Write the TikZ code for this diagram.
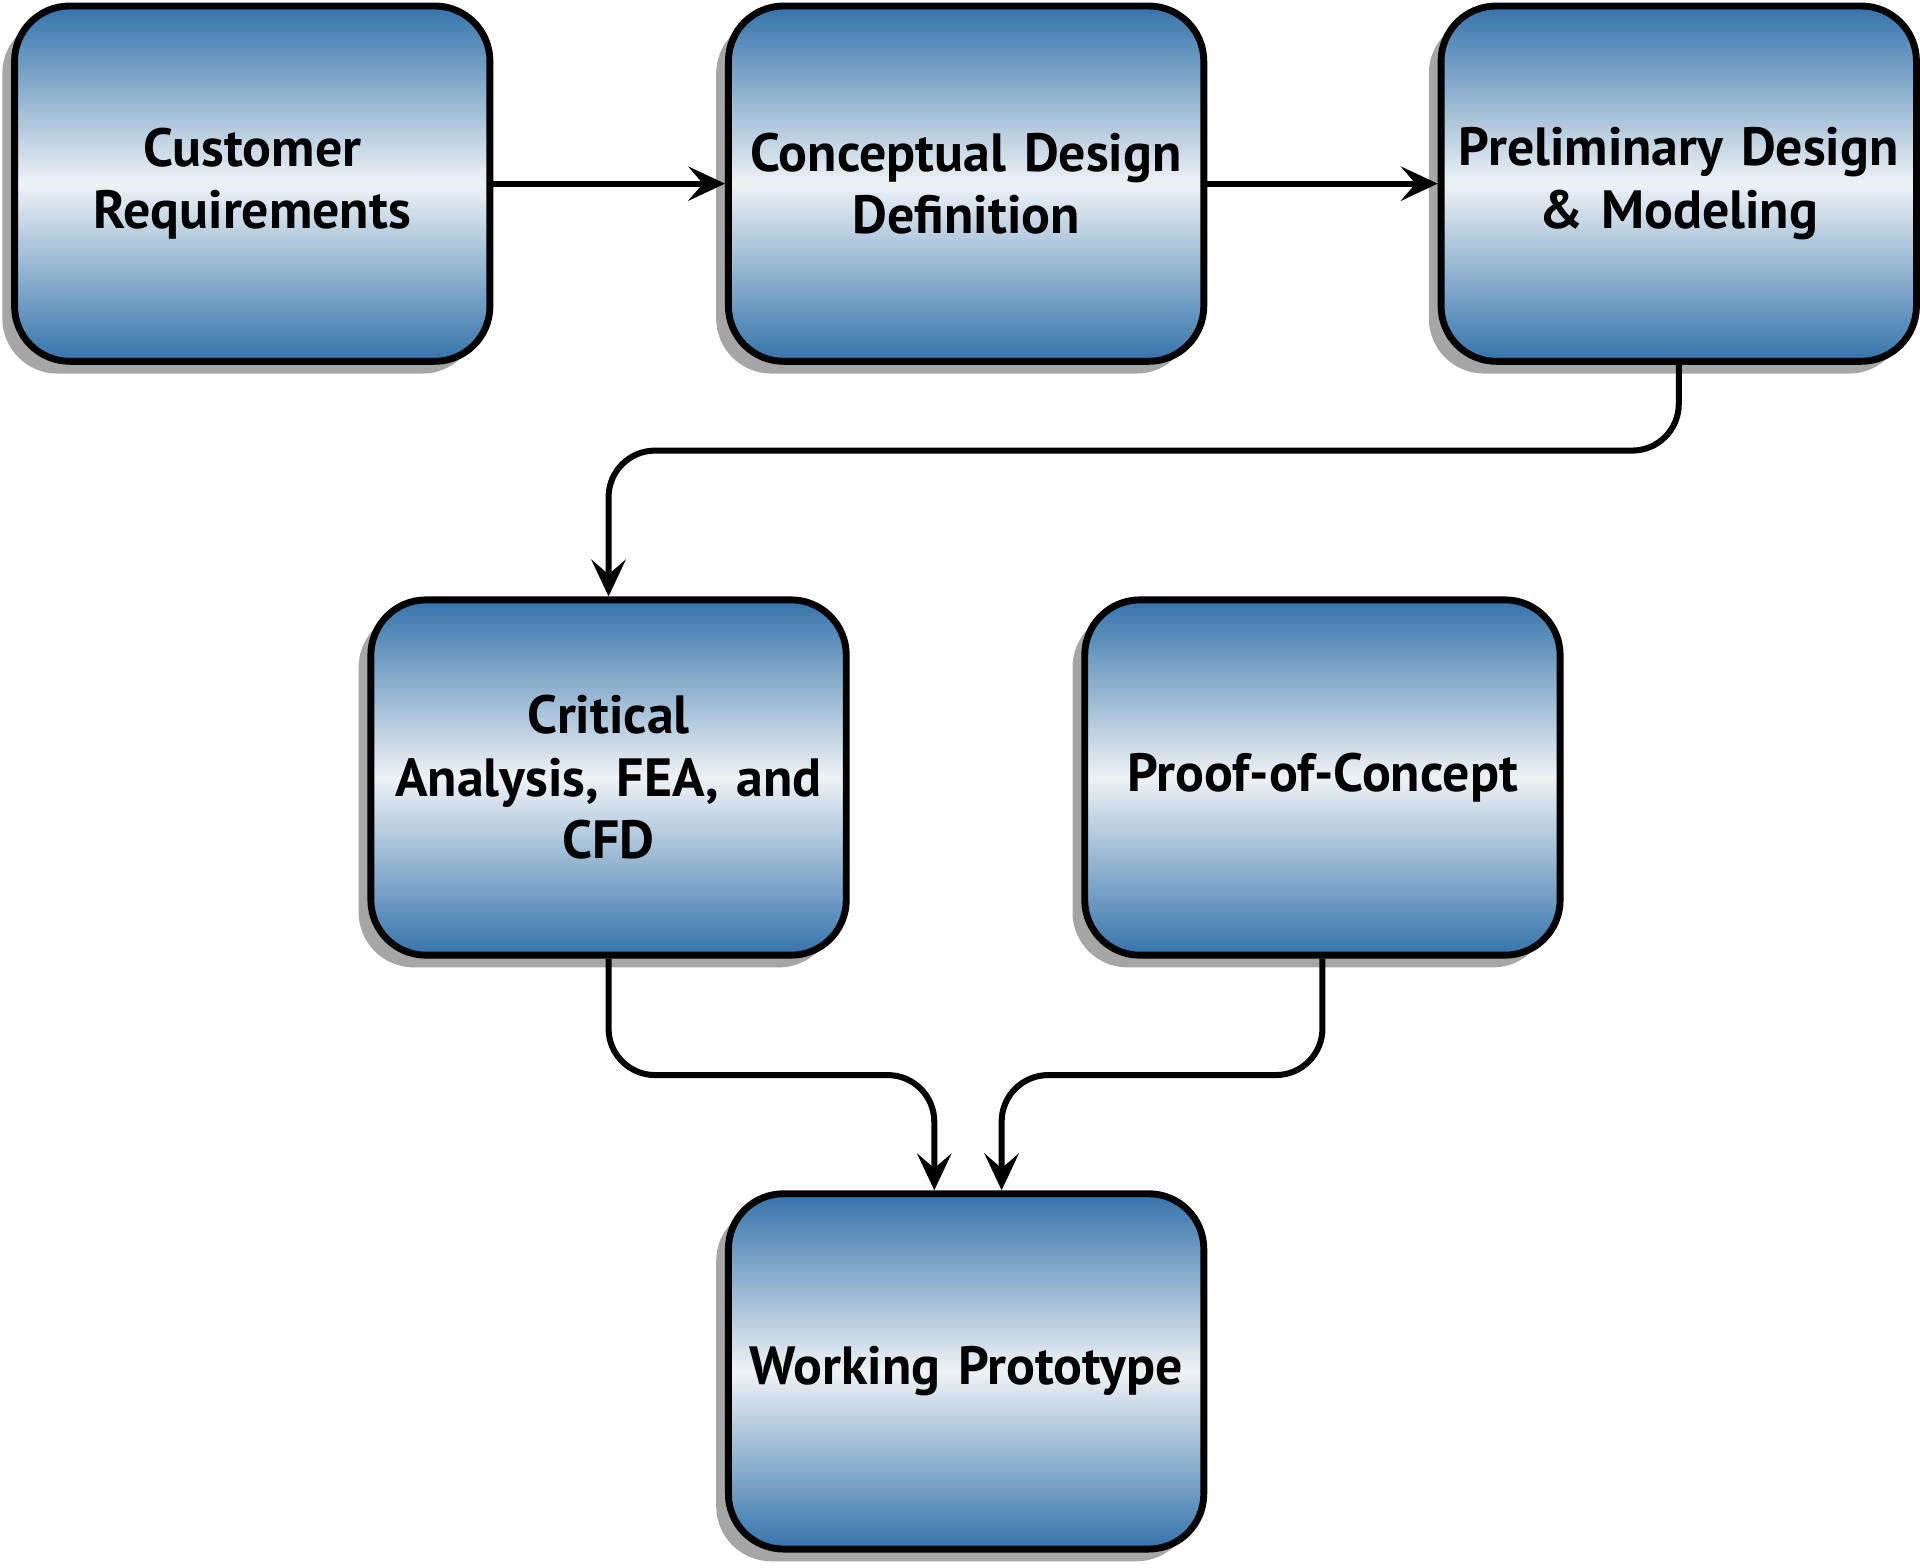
\documentclass[tikz,border=0pt]{standalone}
\usepackage{fontspec}
\setmainfont{PT Sans}
\usetikzlibrary{arrows.meta,calc,shadows}
\definecolor{db}{HTML}{3473AB}
\definecolor{lb}{HTML}{EEF2F5}
\tikzset{
 box/.style={draw=black,line width=1.6pt,rounded corners=0.45cm,text width=3.7cm,inner xsep=0.09cm,minimum height=2.9cm,
  top color=db,bottom color=db,middle color=lb,align=center,font=\bfseries\fontsize{12.5}{14.5}\selectfont,
  drop shadow={shadow xshift=-0.1cm,shadow yshift=-0.1cm,fill=black!35,opacity=1}},
 con/.style={line width=1.4pt,rounded corners=0.38cm,-{Stealth[length=0.3cm,width=0.28cm,inset=0.12cm]}}
}
\begin{document}
\begin{tikzpicture}[x=0.01cm,y=-0.01cm]
\useasboundingbox (0,0) rectangle (1568,1280);
\node[box] (b1) at (206,150) {Customer\\Requirements};
\node[box] (b2) at (789,150) {Conceptual Design\\Definition};
\node[box] (b3) at (1371,150) {Preliminary Design\\\& Modeling};
\node[box] (b4) at (497,635) {Critical\\Analysis, FEA, and\\CFD};
\node[box] (b5) at (1080,635) {Proof-of-Concept};
\node[box] (b6) at (789,1120) {Working Prototype};
\draw[con] (b1) -- (b2);
\draw[con] (b2) -- (b3);
\draw[con] (b3.south) |- (497,368) -- (b4.north);
\draw[con] (b4.south) |- (763,878) -- ($(b6.north)+(-26,0)$);
\draw[con] (b5.south) |- (818,878) -- ($(b6.north)+(29,0)$);
\end{tikzpicture}
\end{document}
